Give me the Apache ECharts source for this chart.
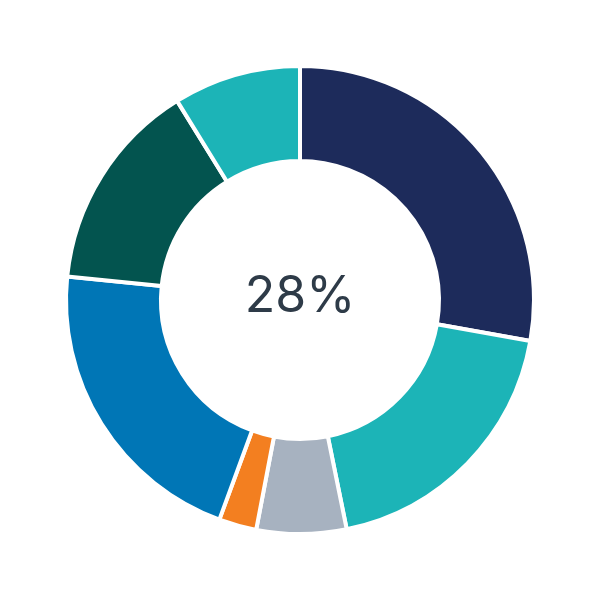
<!DOCTYPE html>
<html>
<head>
<meta charset="utf-8">
<script src="https://cdn.jsdelivr.net/npm/echarts@6/dist/echarts.min.js"></script>
<style>html,body{margin:0;padding:0;background:#fff}#c{width:600px;height:600px}</style>
</head>
<body>
<div id="c"></div>
<script>
const categories = ['A', 'B', 'C', 'D', 'E', 'F', 'G'];
const values = [27.8, 19.0, 6.2, 2.6, 21.0, 14.6, 8.8];
const colors = ['#1d2b5b', '#1cb4b7', '#a7b2c0', '#f37f20', '#0076b6', '#03544f', '#1cb4b7'];
const centerText = '28%';

const chart = echarts.init(document.getElementById('c'), null, {renderer: 'canvas'});
chart.setOption({
  animation: false,
  graphic: [{
    type: 'text',
    x: 300, y: 297,
    style: {
      text: centerText,
      font: '400 50px Inter, sans-serif',
      fill: '#2e3b48',
      align: 'center',
      verticalAlign: 'middle'
    }
  }],
  series: [{
    type: 'pie',
    center: [300, 300],
    radius: [139, 234],
    startAngle: 90,
    clockwise: true,
    label: {show: false},
    labelLine: {show: false},
    emphasis: {disabled: true},
    itemStyle: {borderColor: '#ffffff', borderWidth: 4},
    data: categories.map((c, i) => ({name: c, value: values[i], itemStyle: {color: colors[i]}}))
  }]
});
</script>
</body>
</html>
